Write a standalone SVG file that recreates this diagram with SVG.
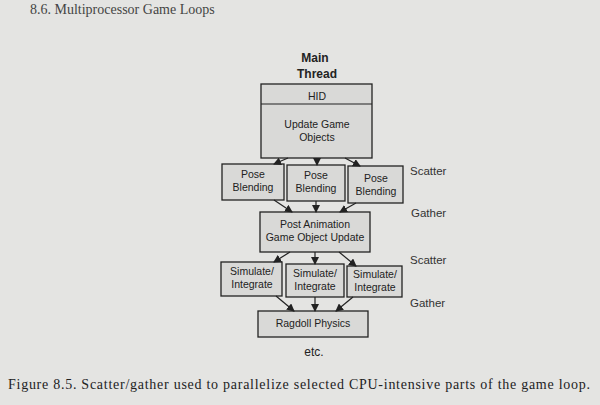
<svg xmlns="http://www.w3.org/2000/svg" width="600" height="405" viewBox="0 0 600 405">
<style>
.b{fill:#d9d9d7;stroke:#222;stroke-width:1.3}
.t{font-family:"Liberation Sans",Arial,sans-serif;font-size:10.5px;fill:#222;text-anchor:middle}
.l{font-family:"Liberation Sans",Arial,sans-serif;font-size:11.5px;fill:#333}
.c{stroke:#222;stroke-width:1.2;fill:none;marker-end:url(#a)}
</style>
<defs><marker id="a" markerWidth="8" markerHeight="8" refX="7" refY="4" orient="auto" markerUnits="userSpaceOnUse"><path d="M0,0L8,4L0,8z" fill="#222"/></marker></defs>
<rect width="600" height="405" fill="#e4e4e2"/>
<text x="30" y="14" font-family="Liberation Serif,serif" font-size="14" fill="#444">8.6. Multiprocessor Game Loops</text>
<text x="315" y="62" class="t" style="font-size:12px;font-weight:bold">Main</text>
<text x="317" y="78" class="t" style="font-size:12px;font-weight:bold">Thread</text>
<g id="main"><rect class="b" x="261" y="84" width="111" height="74"/><line x1="261" y1="104" x2="372" y2="104" stroke="#222" stroke-width="1.2"/><text class="t" x="317" y="100">HID</text><text class="t" x="317" y="128">Update Game</text><text class="t" x="317" y="141">Objects</text></g>
<g id="pose1"><rect class="b" x="222" y="164" width="62" height="36"/><text class="t" x="253" y="178">Pose</text><text class="t" x="253" y="191">Blending</text></g>
<g id="pose2"><rect class="b" x="287" y="165" width="58" height="36"/><text class="t" x="316" y="179">Pose</text><text class="t" x="316" y="192">Blending</text></g>
<g id="pose3"><rect class="b" x="348" y="166" width="55" height="37"/><text class="t" x="376" y="182">Pose</text><text class="t" x="376" y="195">Blending</text></g>
<g id="post"><rect class="b" x="260" y="212" width="110" height="40"/><text class="t" x="315" y="228">Post Animation</text><text class="t" x="315" y="241">Game Object Update</text></g>
<g id="sim1"><rect class="b" x="221" y="262" width="61" height="34"/><text class="t" x="252" y="275">Simulate/</text><text class="t" x="252" y="288">Integrate</text></g>
<g id="sim2"><rect class="b" x="286" y="264" width="58" height="33"/><text class="t" x="315" y="277">Simulate/</text><text class="t" x="315" y="290">Integrate</text></g>
<g id="sim3"><rect class="b" x="347" y="266" width="55" height="31"/><text class="t" x="375" y="278">Simulate/</text><text class="t" x="375" y="291">Integrate</text></g>
<g id="ragdoll"><rect class="b" x="258" y="311" width="110" height="26"/><text class="t" x="313" y="327">Ragdoll Physics</text></g>
<text class="t" x="314" y="356" style="font-size:12px">etc.</text>
<text class="l" x="410" y="175">Scatter</text>
<text class="l" x="411" y="217">Gather</text>
<text class="l" x="410" y="264">Scatter</text>
<text class="l" x="410" y="307">Gather</text>
<g id="connectors">
<path class="c" d="M288,158L274,164"/><path class="c" d="M317,158L317,165"/><path class="c" d="M345,158L360,166"/>
<path class="c" d="M274,200L292,212"/><path class="c" d="M316,201L316,212"/><path class="c" d="M356,203L340,212"/>
<path class="c" d="M290,252L274,262"/><path class="c" d="M315,252L315,264"/><path class="c" d="M339,252L356,266"/>
<path class="c" d="M276,296L294,311"/><path class="c" d="M315,297L315,311"/><path class="c" d="M353,297L336,311"/>
</g>
<text x="8" y="389" font-family="Liberation Serif,serif" font-size="14" fill="#222" textLength="582">Figure 8.5. Scatter/gather used to parallelize selected CPU-intensive parts of the game loop.</text>
</svg>
